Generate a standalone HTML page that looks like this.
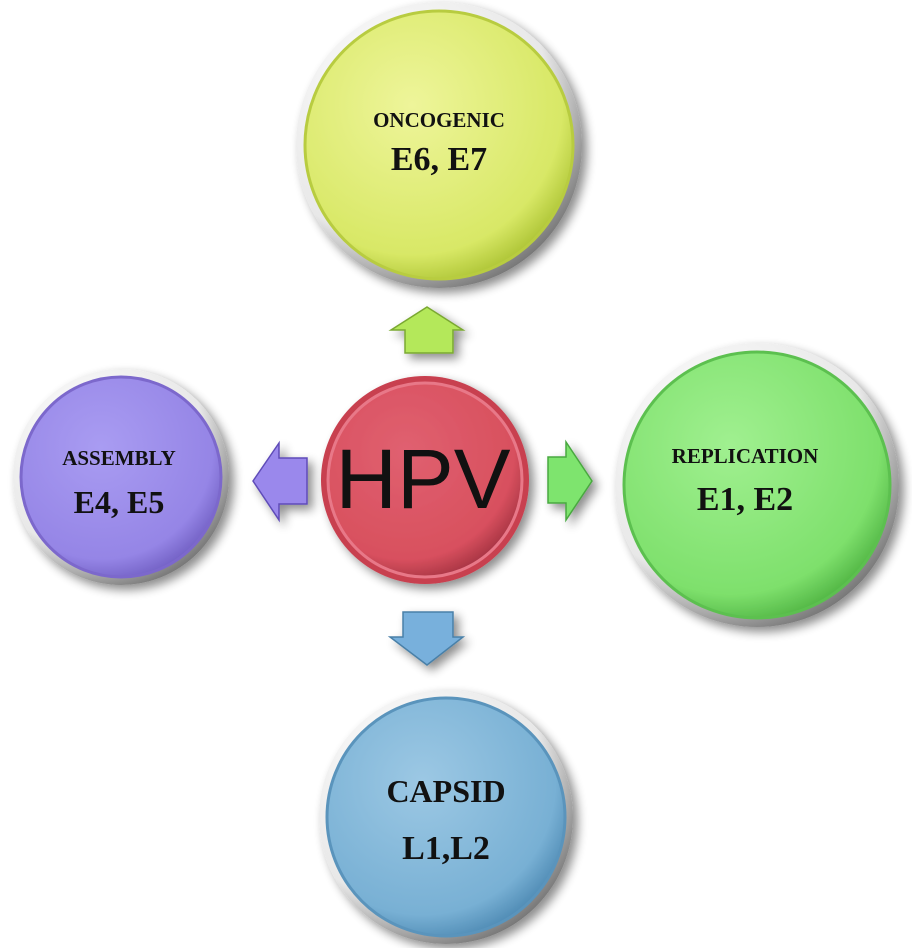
<!DOCTYPE html>
<html><head><meta charset="utf-8"><style>
html,body{margin:0;padding:0;background:#fff}
svg{display:block}
text{font-family:"Liberation Serif",serif;font-weight:bold;fill:#111;text-anchor:middle}
</style></head><body>
<svg width="912" height="948" viewBox="0 0 912 948" xmlns="http://www.w3.org/2000/svg">
<defs>
<filter id="sh" x="-20%" y="-20%" width="150%" height="150%"><feGaussianBlur in="SourceAlpha" stdDeviation="5"/><feOffset dx="5" dy="5"/><feComponentTransfer><feFuncA type="linear" slope="0.45"/></feComponentTransfer><feMerge><feMergeNode/><feMergeNode in="SourceGraphic"/></feMerge></filter>
<radialGradient id="rim" cx="35%" cy="30%" r="75%"><stop offset="0" stop-color="#fff"/><stop offset="0.7" stop-color="#e8e8e8"/><stop offset="1" stop-color="#777"/></radialGradient>
<radialGradient id="gY" cx="40%" cy="35%" r="70%"><stop offset="0" stop-color="#eef59a"/><stop offset="0.8" stop-color="#d8e866"/><stop offset="1" stop-color="#a8c030"/></radialGradient>
<radialGradient id="gP" cx="40%" cy="35%" r="70%"><stop offset="0" stop-color="#a99cf2"/><stop offset="0.8" stop-color="#9585e6"/><stop offset="1" stop-color="#6e5cc0"/></radialGradient>
<radialGradient id="gR" cx="40%" cy="35%" r="70%"><stop offset="0" stop-color="#e06070"/><stop offset="0.8" stop-color="#d8505e"/><stop offset="1" stop-color="#a03040"/></radialGradient>
<radialGradient id="gG" cx="40%" cy="35%" r="70%"><stop offset="0" stop-color="#a0f090"/><stop offset="0.8" stop-color="#7ee06c"/><stop offset="1" stop-color="#4cb040"/></radialGradient>
<radialGradient id="gB" cx="40%" cy="35%" r="70%"><stop offset="0" stop-color="#9cc8e4"/><stop offset="0.8" stop-color="#78b0d4"/><stop offset="1" stop-color="#4a86b0"/></radialGradient>
</defs>

<g filter="url(#sh)"><circle cx="439" cy="145" r="143" fill="url(#rim)"/><circle cx="439" cy="145" r="134" fill="url(#gY)" stroke="#b8cc40" stroke-width="3"/></g>
<text x="439" y="127" font-size="21">ONCOGENIC</text>
<text x="439" y="170" font-size="34">E6, E7</text>

<g filter="url(#sh)"><circle cx="121" cy="477" r="108" fill="url(#rim)"/><circle cx="121" cy="477" r="100" fill="url(#gP)" stroke="#7c68cc" stroke-width="3"/></g>
<text x="119" y="465" font-size="21">ASSEMBLY</text>
<text x="119" y="513" font-size="32">E4, E5</text>

<g filter="url(#sh)"><circle cx="425" cy="480" r="104" fill="#c84050"/><circle cx="425" cy="480" r="97" fill="url(#gR)" stroke="#e87888" stroke-width="3"/></g>
<text x="423" y="508" font-size="84" style="font-family:'Liberation Sans',sans-serif;font-weight:normal" textLength="175" lengthAdjust="spacingAndGlyphs">HPV</text>

<g filter="url(#sh)"><circle cx="757" cy="485" r="142" fill="url(#rim)"/><circle cx="757" cy="485" r="133" fill="url(#gG)" stroke="#5cc050" stroke-width="3"/></g>
<text x="745" y="463" font-size="21">REPLICATION</text>
<text x="745" y="510" font-size="34">E1, E2</text>

<g filter="url(#sh)"><circle cx="446" cy="817" r="127" fill="url(#rim)"/><circle cx="446" cy="817" r="119" fill="url(#gB)" stroke="#5a94bc" stroke-width="3"/></g>
<text x="446" y="802" font-size="32">CAPSID</text>
<text x="446" y="859" font-size="34">L1,L2</text>

<g filter="url(#sh)" stroke-width="1.5">
<polygon points="427,307 463,330 453,330 453,353 405,353 405,330 391,330" fill="#b4e85a" stroke="#7aa830"/>
<polygon points="592,481 566,442 566,457 548,457 548,503 566,503 566,520" fill="#7ee46e" stroke="#48a840"/>
<polygon points="253,481 279,443 279,458 307,458 307,504 279,504 279,520" fill="#9a88ec" stroke="#5e4cb8"/>
<polygon points="427,665 463,637 453,637 453,612 403,612 403,637 390,637" fill="#78b0dc" stroke="#4a80a8"/>
</g>
</svg>
</body></html>
